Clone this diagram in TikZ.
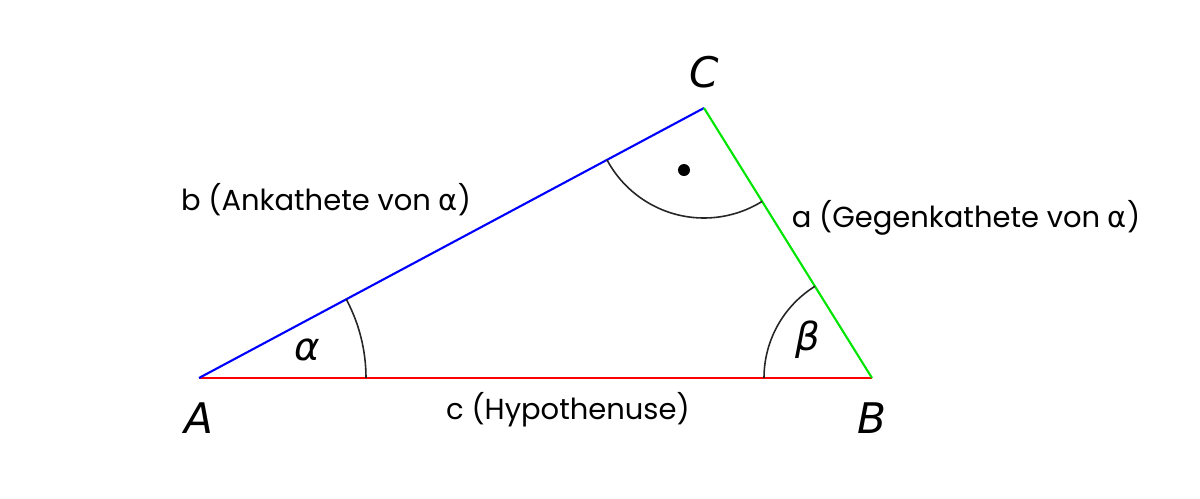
\documentclass[tikz,border=0pt]{standalone}
\usepackage{fontspec}
\setmainfont{Poppins}
\newfontfamily\grkfont{DejaVu Sans}
\newfontfamily\vertfont{DejaVu Sans Oblique}
\tikzset{
    side/.style={line width=.6pt},
    anglearc/.style={line width=.45pt, black!85},
    vertex/.style={font=\vertfont\fontsize{12}{12}\selectfont},
    anglelabel/.style={font=\vertfont\fontsize{11}{11}\selectfont},
    sidelabel/.style={font=\fontsize{8.25}{10}\selectfont}
}
\begin{document}
\begin{tikzpicture}
        \useasboundingbox (0, 0) rectangle (12, 4.98);

        \coordinate (A) at (1.99, 1.20);
        \coordinate (B) at (8.72, 1.20);
        \coordinate (C) at (7.04, 3.90);

        %%sides
        \draw[side, red](A) to (B);
        \draw[side, blue](A) to (C);
        \draw[side, green!90!black](C) to (B);

        %%angle arcs
        \draw[anglearc]([shift={(0:1.67)}]A) arc (0:28.13:1.67);
        \draw[anglearc]([shift={(121.9:1.08)}]B) arc (121.9:180:1.08);
        \draw[anglearc]([shift={(208.13:1.1)}]C) arc (208.13:301.9:1.1);
        \fill(6.84, 3.28) circle (.06);

        %%vertices
        \node[vertex] (labA) at (1.99, 0.80) {A};
        \node[vertex] (labB) at (8.72, 0.80) {B};
        \node[vertex] (labC) at (7.04, 4.26) {C};

        \node[anglelabel] (alpha) at (3.07, 1.48) {α};
        \node[anglelabel] (beta) at (8.08, 1.58) {β};

        %%side labels
        \node[sidelabel] (labb) at (3.26, 2.98) {b (Ankathete von {\grkfont α})};
        \node[sidelabel] (laba) at (9.66, 2.80) {a (Gegenkathete von {\grkfont α})};
        \node[sidelabel] (labc) at (5.68, 0.88) {c (Hypothenuse)};

    \end{tikzpicture}
\end{document}
